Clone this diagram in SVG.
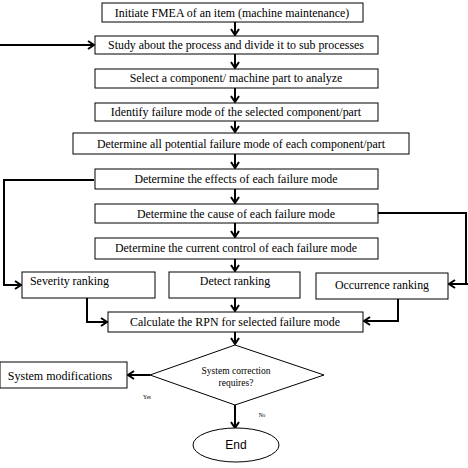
<svg xmlns="http://www.w3.org/2000/svg" width="468" height="468" viewBox="0 0 468 468">
<defs>
<marker id="ah" markerWidth="10" markerHeight="10" refX="8" refY="5" orient="auto" markerUnits="userSpaceOnUse">
<path d="M2,1 L8,5 L2,9" fill="none" stroke="#000" stroke-width="2"/>
</marker>
<style>
.box{fill:#fff;stroke:#000;stroke-width:1}
.t{font-family:"Liberation Serif","Times New Roman",serif;font-size:11.9px;fill:#000;text-anchor:middle}
.c{fill:none;stroke:#000;stroke-width:2;marker-end:url(#ah)}
.l{fill:none;stroke:#000;stroke-width:2}
</style>
</defs>
<rect width="468" height="468" fill="#fff"/>
<g id="connectors">
<path class="c" d="M235,22 V35"/>
<path class="c" d="M0,45 H94"/>
<path class="c" d="M235,54 V68"/>
<path class="c" d="M235,88 V102"/>
<path class="c" d="M235,121 V132"/>
<path class="c" d="M235,154 V168"/>
<path class="c" d="M235,189 V203"/>
<path class="c" d="M235,223 V237"/>
<path class="c" d="M235,259 V271"/>
<path class="c" d="M235,298 V311"/>
<path class="c" d="M235,332 V344"/>
<path class="c" d="M94,180 H4 V285 H21"/>
<path class="l" d="M378,213 H466 V284"/>
<path class="c" d="M468,284 H449"/>
<path class="c" d="M87,298 V322 H107"/>
<path class="c" d="M398,299 V321 H364"/>
<path class="c" d="M150,375 H128"/>
<path class="c" d="M235,405 V428"/>
</g>
<g id="n1"><rect class="box" x="102" y="3" width="261" height="19"/><text class="t" x="232" y="17">Initiate FMEA of an item (machine maintenance)</text></g>
<g id="n2"><rect class="box" x="95" y="36" width="283" height="18"/><text class="t" x="236" y="49">Study about the process and divide it to sub processes</text></g>
<g id="n3"><rect class="box" x="95" y="69" width="283" height="19"/><text class="t" x="236" y="82">Select a component/ machine part to analyze</text></g>
<g id="n4"><rect class="box" x="95" y="103" width="283" height="18"/><text class="t" x="236" y="116">Identify failure mode of the selected component/part</text></g>
<g id="n5"><rect class="box" x="73" y="133" width="336" height="21"/><text class="t" x="241" y="148">Determine all potential failure mode of each component/part</text></g>
<g id="n6"><rect class="box" x="95" y="169" width="283" height="20"/><text class="t" x="236" y="183">Determine the effects of each failure mode</text></g>
<g id="n7"><rect class="box" x="95" y="204" width="283" height="19"/><text class="t" x="236" y="218">Determine the cause of each failure mode</text></g>
<g id="n8"><rect class="box" x="95" y="238" width="283" height="21"/><text class="t" x="236" y="252">Determine the current control of each failure mode</text></g>
<g id="n9"><rect class="box" x="22" y="272" width="133" height="26"/><text class="t" x="30" y="285" style="text-anchor:start">Severity ranking</text></g>
<g id="n10"><rect class="box" x="169" y="272" width="131" height="26"/><text class="t" x="235" y="285">Detect ranking</text></g>
<g id="n11"><rect class="box" x="316" y="273" width="132" height="26"/><text class="t" x="382" y="289">Occurrence ranking</text></g>
<g id="n12"><rect class="box" x="108" y="312" width="255" height="20"/><text class="t" x="235" y="326">Calculate the RPN for selected failure mode</text></g>
<g id="n13"><polygon class="box" points="235,345 324,375 235,405 150,375"/><text class="t" x="236" y="374" style="font-size:9.5px">System correction</text><text class="t" x="236" y="386" style="font-size:9.5px">requires?</text></g>
<g id="n14"><rect class="box" x="0" y="362" width="127" height="26"/><text class="t" x="60" y="380" style="font-size:12px">System modifications</text></g>
<text class="t" x="147" y="399" style="font-size:5.5px">Yes</text>
<text class="t" x="262" y="417" style="font-size:5.5px">No</text>
<g id="n15"><ellipse class="box" cx="236" cy="445" rx="43" ry="17"/><text class="t" x="236" y="449" style="font-family:'Liberation Sans',Arial,sans-serif;font-size:12px">End</text></g>
</svg>
